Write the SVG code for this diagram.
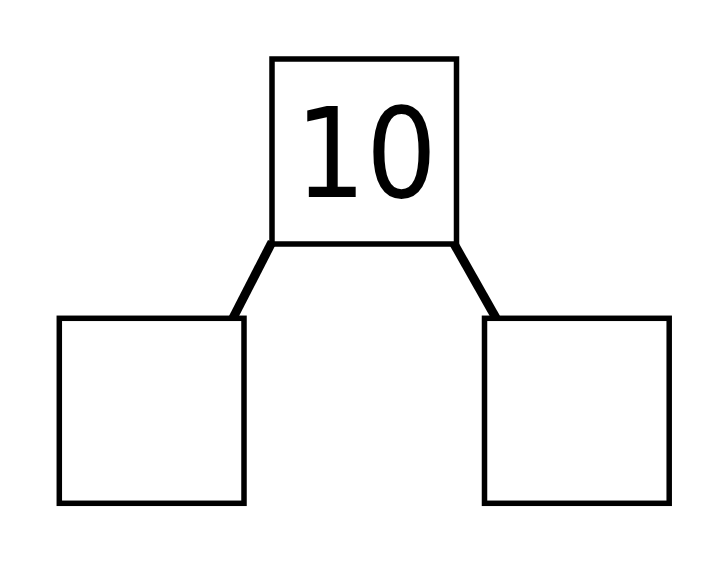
<svg xmlns="http://www.w3.org/2000/svg" width="728" height="563" viewBox="0 0 728 563">
<style>
.box{fill:#fff;stroke:#000;stroke-width:5.5}
.edge{stroke:#000;stroke-width:9;fill:none}
.lbl{font-family:"DejaVu Sans",sans-serif;font-size:125px;fill:#000;text-anchor:middle}
</style>
<rect width="728" height="563" fill="#fff"/>
<g id="connectors">
<line class="edge" x1="272" y1="242" x2="233" y2="318"/>
<line class="edge" x1="453" y1="242" x2="496" y2="318"/>
</g>
<g id="top">
<rect class="box" x="272" y="59" width="184.5" height="185"/>
<text class="lbl" x="366" y="197" textLength="142" lengthAdjust="spacingAndGlyphs">10</text>
</g>
<g id="left">
<rect class="box" x="59.3" y="318.3" width="184.7" height="185"/>
</g>
<g id="right">
<rect class="box" x="484.5" y="318.3" width="184.7" height="185"/>
</g>
</svg>
